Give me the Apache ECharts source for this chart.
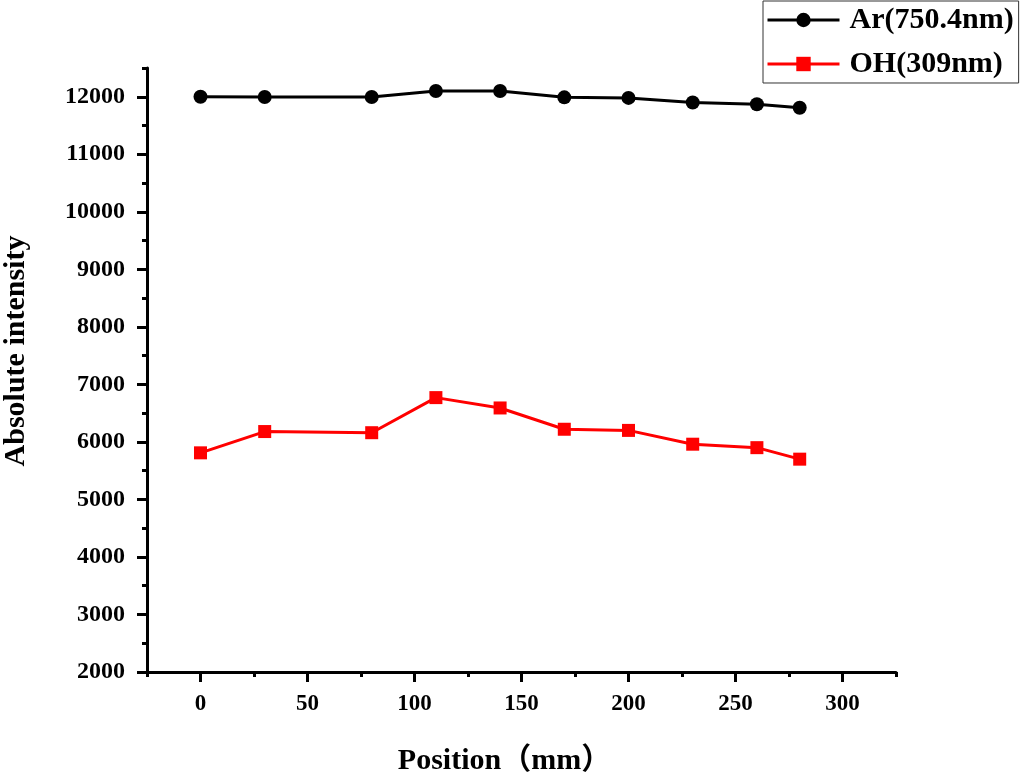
<!DOCTYPE html>
<html>
<head>
<meta charset="utf-8">
<script src="https://cdn.jsdelivr.net/npm/echarts@6/dist/echarts.min.js"></script>
<style>
html,body{margin:0;padding:0;background:#fff;}
#c{width:1025px;height:773px;}
</style>
</head>
<body>
<div id="c"></div>
<script>
const positions = [0, 30, 80, 110, 140, 170, 200, 230, 260, 280];
const arValues = [12000, 11995, 11995, 12100, 12100, 11990, 11980, 11900, 11870, 11810];
const ohValues = [5810, 6180, 6160, 6770, 6590, 6220, 6200, 5960, 5900, 5700];
const xTicks = [0, 50, 100, 150, 200, 250, 300];
const yTicks = [2000, 3000, 4000, 5000, 6000, 7000, 8000, 9000, 10000, 11000, 12000];
const seriesNames = ['Ar(750.4nm)', 'OH(309nm)'];

const FONT = '"Liberation Serif", "Times New Roman", "Noto Sans CJK SC", serif';
const chart = echarts.init(document.getElementById('c'), null, {renderer: 'canvas'});

const axisLine = {show: true, onZero: false, lineStyle: {color: '#000', width: 3}};
const plain = v => String(v);

chart.setOption({
  backgroundColor: '#fff',
  animation: false,
  textStyle: {fontFamily: FONT, color: '#000'},
  grid: {left: 147, right: 129, top: 68, bottom: 101, containLabel: false, outerBoundsMode: 'none'},
  legend: {
    orient: 'vertical',
    left: 763, top: 1,
    padding: [4, 5, 4, 3],
    itemGap: 14,
    itemWidth: 72,
    itemHeight: 18,
    borderColor: '#333',
    borderWidth: 1,
    backgroundColor: '#fff',
    lineStyle: {width: 3},
    textStyle: {fontFamily: FONT, fontWeight: 'bold', fontSize: 30, color: '#000', padding: [0, 0, 0, 5]},
    data: seriesNames
  },
  xAxis: [{
    type: 'value',
    min: -25, max: 325,
    splitNumber: 7,
    name: 'Position（mm）',
    nameLocation: 'middle',
    nameGap: 74,
    nameTextStyle: {fontFamily: FONT, fontWeight: 'bold', fontSize: 30, color: '#000', padding: [0, 34, 0, 0]},
    axisLine: axisLine,
    axisTick: {show: true, inside: false, length: 10, lineStyle: {color: '#000', width: 3}, customValues: xTicks},
    axisLabel: {show: true, margin: 21, fontFamily: FONT, fontWeight: 'bold', fontSize: 23, color: '#000', customValues: xTicks, formatter: plain},
    splitLine: {show: false}
  }, {
    type: 'value',
    min: -25, max: 325,
    interval: 25,
    position: 'bottom',
    axisLine: {show: false, onZero: false},
    axisTick: {show: true, inside: false, length: 5, lineStyle: {color: '#000', width: 3}},
    axisLabel: {show: false},
    splitLine: {show: false}
  }],
  yAxis: [{
    type: 'value',
    min: 2000, max: 12500,
    interval: 1000,
    name: 'Absolute intensity',
    nameLocation: 'middle',
    nameGap: 116,
    nameTextStyle: {fontFamily: FONT, fontWeight: 'bold', fontSize: 30, color: '#000', padding: [0, 0, 0, 38]},
    axisLine: axisLine,
    axisTick: {show: true, inside: false, length: 10, lineStyle: {color: '#000', width: 3}, customValues: yTicks},
    axisLabel: {show: true, margin: 22, fontFamily: FONT, fontWeight: 'bold', fontSize: 24, color: '#000', customValues: yTicks, formatter: plain},
    splitLine: {show: false}
  }, {
    type: 'value',
    min: 2000, max: 12500,
    interval: 500,
    position: 'left',
    axisLine: {show: false, onZero: false},
    axisTick: {show: true, inside: false, length: 5, lineStyle: {color: '#000', width: 3}},
    axisLabel: {show: false},
    splitLine: {show: false}
  }],
  series: [{
    name: seriesNames[0],
    type: 'line',
    xAxisIndex: 0, yAxisIndex: 0,
    data: positions.map((x, i) => [x, arValues[i]]),
    symbol: 'circle',
    symbolSize: 14,
    itemStyle: {color: '#000'},
    lineStyle: {color: '#000', width: 3},
    z: 3
  }, {
    name: seriesNames[1],
    type: 'line',
    xAxisIndex: 0, yAxisIndex: 0,
    data: positions.map((x, i) => [x, ohValues[i]]),
    symbol: 'rect',
    symbolSize: 13,
    itemStyle: {color: '#ff0000'},
    lineStyle: {color: '#ff0000', width: 3},
    z: 3
  }]
});
</script>
</body>
</html>
